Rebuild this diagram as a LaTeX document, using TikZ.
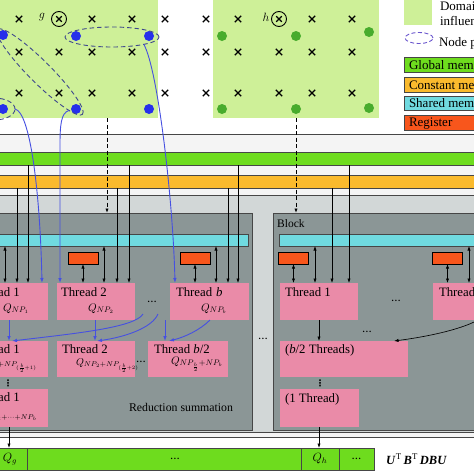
\documentclass[tikz,border=0pt]{standalone}
\usepackage{fontspec}
\setmainfont{Liberation Serif}
\newfontfamily\djv{DejaVu Sans}
\usetikzlibrary{arrows.meta,fit,shapes.geometric}
\definecolor{domc}{RGB}{206,240,152}
\definecolor{gmem}{RGB}{110,220,30}
\definecolor{cmem}{RGB}{250,186,45}
\definecolor{smem}{RGB}{112,218,224}
\definecolor{regc}{RGB}{248,86,28}
\definecolor{thrc}{RGB}{234,139,168}
\definecolor{blkc}{RGB}{139,150,150}
\definecolor{gridc}{RGB}{210,215,215}
\definecolor{devc}{RGB}{244,244,244}
\definecolor{edgec}{RGB}{70,70,70}
\definecolor{bluec}{RGB}{70,80,225}
\definecolor{dotb}{RGB}{38,48,235}
\definecolor{dotg}{RGB}{72,172,45}
\definecolor{pairc}{RGB}{62,72,140}
\definecolor{legpc}{RGB}{105,85,205}
\newcommand{\tdots}{\textbf{.\kern0.9pt.\kern0.9pt.}}
\begin{document}
\begin{tikzpicture}[x=1pt,y=-1pt,
  area/.style={inner sep=0pt,outer sep=0pt,draw=edgec,line width=0.7pt},
  dom/.style={inner sep=0pt,outer sep=0pt,fill=domc},
  thr/.style={inner sep=0pt,outer sep=0pt,fill=thrc},
  reg/.style={draw=black,line width=0.6pt,fill=regc,minimum width=30pt,minimum height=12pt,inner sep=0pt,outer sep=0pt},
  txt/.style={inner sep=0pt,outer sep=0pt,font=\fontsize{12.8}{14}\selectfont},
  frm/.style={inner sep=0pt,outer sep=0pt,font=\fontsize{11}{12}\selectfont},
  frms/.style={inner sep=0pt,outer sep=0pt,font=\fontsize{10}{11}\selectfont},
  legt/.style={inner sep=0pt,outer sep=0pt,font=\fontsize{13}{15}\selectfont},
  arr/.style={line width=0.65pt,-{Latex[length=4.5pt,width=3.2pt]}},
  darr/.style={line width=0.65pt,{Latex[length=4.5pt,width=3.2pt]}-{Latex[length=4.5pt,width=3.2pt]}},
  barr/.style={draw=bluec,line width=0.9pt,-{Latex[length=5pt,width=3.6pt]}},
  dsh/.style={line width=0.8pt,dash pattern=on 4pt off 2.5pt,-{Latex[length=4.5pt,width=3.2pt]}},
  pairs/.style={draw=pairc,line width=0.9pt,dash pattern=on 4.5pt off 3pt,ellipse,inner sep=0pt,outer sep=0pt},
  bdot/.style={circle,fill=dotb,minimum size=10pt,inner sep=0pt},
  gdot/.style={circle,fill=dotg,minimum size=10pt,inner sep=0pt},
  dotsn/.style={inner sep=0pt,outer sep=0pt,font=\fontsize{9}{9}\selectfont},
  vdotsn/.style={inner sep=0pt,outer sep=0pt,font=\djv\bfseries\fontsize{9}{9}\selectfont},
  xm/.pic={\draw[line width=1.2pt] (-3.2,-3.2) -- (3.2,3.2) (-3.2,3.2) -- (3.2,-3.2);},
  xs/.pic={\draw[line width=1.1pt] (-2.8,-2.8) -- (2.8,2.8) (-2.8,2.8) -- (2.8,-2.8);}
]
\useasboundingbox (0,0) rectangle (474,474);
\clip (0,0) rectangle (474,474);
% domains of influence
\node[dom,fit={(-20,-20) (158,118)}] (domg) {};
\node[dom,fit={(213,-20) (379,118)}] (domh) {};
\foreach \x in {19,92,132,165,206,238,312,352} \pic at (\x,19) {xm};
\foreach \x in {19,59,92,132,165,206,238,279,312,352} {\pic at (\x,52) {xm}; \pic at (\x,93) {xm};}
\node[circle,draw,line width=0.9pt,minimum size=15pt,inner sep=0pt] (gx) at (59,19) {};
\pic at (59,19) {xs};
\node[circle,draw,line width=0.9pt,minimum size=15pt,inner sep=0pt] (hx) at (279,19) {};
\pic at (279,19) {xs};
\node[inner sep=0pt,font=\fontsize{11.5}{12}\selectfont] (glab) at (42,17.5) {$g$};
\node[inner sep=0pt,font=\fontsize{11.5}{12}\selectfont] (hlab) at (266,17) {$h$};
% node dots
\node[bdot] (p1) at (3,35) {};
\node[bdot] (p2) at (76,36) {};
\node[bdot] (p3) at (149,36) {};
\node[bdot] (p4) at (3,109) {};
\node[bdot] (p5) at (76,109) {};
\node[bdot] (p6) at (149,109) {};
\node[gdot] (q1) at (222,36) {};
\node[gdot] (q2) at (296,36) {};
\node[gdot] (q3) at (369,32) {};
\node[gdot] (q4) at (222,109) {};
\node[gdot] (q5) at (296,109) {};
\node[gdot] (q6) at (369,108) {};
% node pairs
\node[pairs,minimum width=94pt,minimum height=20pt] (e1) at (112,37) {};
\node[pairs,minimum width=120pt,minimum height=22pt,rotate=-45] (e2) at (40,72) {};
\node[pairs,minimum width=42pt,minimum height=22pt] (e3) at (-6,109) {};
% legend
\node[dom,fit={(404,-5) (432,25)}] (legdom) {};
\node[legt,anchor=base west] (legdomt) at (440,10) {Domain of};
\node[legt,anchor=base west] (legdomt2) at (440,25) {influence};
\node[draw=legpc,line width=0.9pt,dash pattern=on 4pt off 2.5pt,ellipse,minimum width=28pt,minimum height=11pt,inner sep=0pt] (legpair) at (419,38) {};
\node[legt,anchor=base west] (legpairt) at (439,46) {Node pair};
\node[area,fill=gmem,fit={(404,57) (500,72)}] (leggm) {};
\node[legt,anchor=base west] (leggmt) at (409,69) {Global memory};
\node[area,fill=cmem,fit={(404,77) (500,92)}] (legcm) {};
\node[legt,anchor=base west] (legcmt) at (409,89) {Constant memory};
\node[area,fill=smem,fit={(404,96) (500,110)}] (legsm) {};
\node[legt,anchor=base west] (legsmt) at (409,107) {Shared memory};
\node[area,fill=regc,fit={(404,115) (500,130)}] (legrg) {};
\node[legt,anchor=base west] (legrgt) at (409,126) {Register};
% containers
\node[area,fill=devc,fit={(-20,134) (494,437)}] (dev) {};
\node[area,fill=gmem,fit={(-20,152) (494,165)}] (gband) {};
\node[area,fill=cmem,fit={(-20,175) (494,188)}] (oband) {};
\node[area,fill=gridc,fit={(-20,195) (494,432)}] (grid) {};
\node[area,fill=blkc,fit={(-20,213) (252,430)}] (lblk) {};
\node[area,fill=blkc,fit={(273,213) (494,430)}] (rblk) {};
\node[inner sep=0pt,anchor=base west,font=\fontsize{11.5}{12}\selectfont] (blab) at (277,227) {Block};
\node[area,fill=smem,fit={(-20,234) (248,246)}] (lsh) {};
\node[area,fill=smem,fit={(279,234) (494,246)}] (rsh) {};
\node[reg] (lr2) at (83,258) {};
\node[reg] (lrb) at (195,258) {};
\node[reg] (rr1) at (293.5,258) {};
\node[reg] (rrb) at (447.5,258) {};
% threads
\node[thr,fit={(-28,283) (48,320)}] (t1) {};
\node[thr,fit={(57,283) (135,320)}] (t2) {};
\node[thr,fit={(170,283) (249,320)}] (tb) {};
\node[thr,fit={(280,283) (358,320)}] (rt1) {};
\node[thr,fit={(433,283) (510,320)}] (rtb) {};
\node[thr,fit={(-28,341) (48,377)}] (s1) {};
\node[thr,fit={(57,341) (135,377)}] (s2) {};
\node[thr,fit={(148,341) (228,377)}] (sb2) {};
\node[thr,fit={(280,341) (408,377)}] (rh) {};
\node[thr,fit={(-28,389) (48,427)}] (u1) {};
\node[thr,fit={(280,389) (359,427)}] (r1) {};
% bottom bar
\node[area,fill=gmem,fit={(-20,448) (27,470)}] (qg) {};
\node[area,fill=gmem,fit={(27,448) (301,470)}] (qmid) {};
\node[area,fill=gmem,fit={(301,448) (339,470)}] (qh) {};
\node[area,fill=gmem,fit={(339,448) (374,470)}] (qend) {};
\node[inner sep=0pt,font=\fontsize{12}{12}\selectfont] (qgt) at (qg.center -| 10,0) {$Q_g$};
\node[inner sep=0pt,font=\fontsize{12}{12}\selectfont] (qht) at (qh.center) {$Q_h$};
\node[dotsn] (qmidd) at (175,459) {\tdots};
\node[dotsn] (qendd) at (qend.center) {\tdots};
\node[inner sep=0pt,anchor=base west,font=\fontsize{12.5}{14}\selectfont] (ubdbu) at (386,464) {\textbf{\textit{U}}$^{\mathrm{T}}$\,\textbf{\textit{B}}$^{\mathrm{T}}$\,\textbf{\textit{DBU}}};
% thread texts
\node[txt,anchor=base west] (t1a) at (-26,296) {Thread 1};
\node[txt,anchor=base west] (t2a) at (61,296) {Thread 2};
\node[txt,anchor=base west] (tba) at (176,296) {Thread\hspace{4pt}\textit{b}};
\node[txt,anchor=base west] (rt1a) at (285,296) {Thread 1};
\node[txt,anchor=base west] (rtba) at (439,296) {Thread \textit{b}};
\node[frm,anchor=base west] (t1q) at (3,311) {$Q_{NP_1}$};
\node[frm,anchor=base west] (t2q) at (88,311) {$Q_{NP_2}$};
\node[frm,anchor=base west] (tbq) at (201,311) {$Q_{NP_b}$};
\node[txt,anchor=base west] (s1a) at (-26,353) {Thread 1};
\node[txt,anchor=base west] (s2a) at (62,353) {Thread 2};
\node[txt,anchor=base west] (sb2a) at (154,353) {Thread \textit{b}/2};
\node[txt,anchor=base west] (rha) at (285,353) {(\textit{b}/2 Threads)};
\node[frms,anchor=base east] (s1q) at (37,365) {$Q_{NP_1+NP_{(\frac{b}{2}+1)}}$};
\node[frms,anchor=base west] (s2q) at (76,365) {$Q_{NP_2+NP_{(\frac{b}{2}+2)}}$};
\node[frm,anchor=base west] (sb2q) at (171,364) {$Q_{NP_{\frac{b}{2}}+NP_b}$};
\node[txt,anchor=base west] (u1a) at (-26,401) {Thread 1};
\node[frms,anchor=base east] (u1q) at (37,418) {$Q_{NP_1+NP_2+\cdots+NP_b}$};
\node[txt,anchor=base west] (r1a) at (285,402) {(1 Thread)};
\node[inner sep=0pt,font=\fontsize{11.8}{13}\selectfont] (red) at (181,407) {Reduction summation};
\node[dotsn] (d1) at (152,302) {\tdots};
\node[dotsn] (d2) at (396,301) {\tdots};
\node[dotsn] (d3) at (141,362) {\tdots};
\node[dotsn] (d4) at (367,332) {\tdots};
\node[dotsn] (d5) at (263,339) {\tdots};
\node[vdotsn] (v1) at (8,383) {⋮};
\node[vdotsn] (v2) at (320,383) {⋮};
% memory arrows
\draw[darr] (5,0 |- lsh.south) -- (5,0 |- t1.north);
\draw[arr] (17,0 |- oband.south) -- (17,0 |- t1.north);
\draw[arr] (28,0 |- gband.south) -- (28,0 |- t1.north);
\draw[darr] (lr2.south) -- (lr2.south |- t2.north);
\draw[darr] (104,0 |- lsh.south) -- (104,0 |- t2.north);
\draw[arr] (117,0 |- oband.south) -- (117,0 |- t2.north);
\draw[arr] (129,0 |- gband.south) -- (129,0 |- t2.north);
\draw[darr] (lrb.south) -- (lrb.south |- tb.north);
\draw[darr] (216,0 |- lsh.south) -- (216,0 |- tb.north);
\draw[arr] (228,0 |- oband.south) -- (228,0 |- tb.north);
\draw[arr] (238,0 |- gband.south) -- (238,0 |- tb.north);
\draw[darr] (rr1.south) -- (rr1.south |- rt1.north);
\draw[darr] (315,0 |- rsh.south) -- (315,0 |- rt1.north);
\draw[arr] (332,0 |- oband.south) -- (332,0 |- rt1.north);
\draw[arr] (349,0 |- gband.south) -- (349,0 |- rt1.north);
\draw[darr] (rrb.south) -- (rrb.south |- rtb.north);
\draw[darr] (469,0 |- rsh.south) -- (469,0 |- rtb.north);
% domain to block
\draw[dsh] (107,0 |- domg.south) -- (107,0 |- lblk.north);
\draw[dsh] (296,0 |- domh.south) -- (296,0 |- rblk.north);
% node pairs to threads
\draw[barr] (e3.east) .. controls (30,112) and (40,190) .. (42,0 |- t1.north);
\draw[barr] (e2.-8) .. controls (61,113) and (60,125) .. (60,145) -- (60,0 |- t2.north);
\draw[barr] (e1.-13) .. controls (158,70) and (173,200) .. (175,0 |- tb.north);
% reduction
\coordinate (dA) at (143,314);
\coordinate (dB) at (158,314);
\coordinate (dC) at (165,320);
\draw[barr] (9,0 |- t1.south) -- (9,0 |- s1.north);
\draw[barr] (95,0 |- t2.south) -- (95,0 |- s2.north);
\draw[barr] (dC) -- (dC |- sb2.north);
\draw[barr] (dA) .. controls (135,328) and (70,334) .. (12,0 |- s1.north);
\draw[barr] (dB) .. controls (152,328) and (125,337) .. (97,0 |- s2.north);
\draw[barr] (210,0 |- tb.south) .. controls (200,330) and (185,337) .. (169,0 |- sb2.north);
\draw[arr] (319,0 |- rt1.south) -- (319,0 |- rh.north);
\draw[arr] (478,0 |- rtb.south) .. controls (460,330) and (425,337) .. (394,0 |- rh.north);
\draw[arr] (319,0 |- r1.south) -- (319,0 |- qh.north);
\draw[arr] (9,0 |- u1.south) -- (9,0 |- qg.north);
\end{tikzpicture}
\end{document}
